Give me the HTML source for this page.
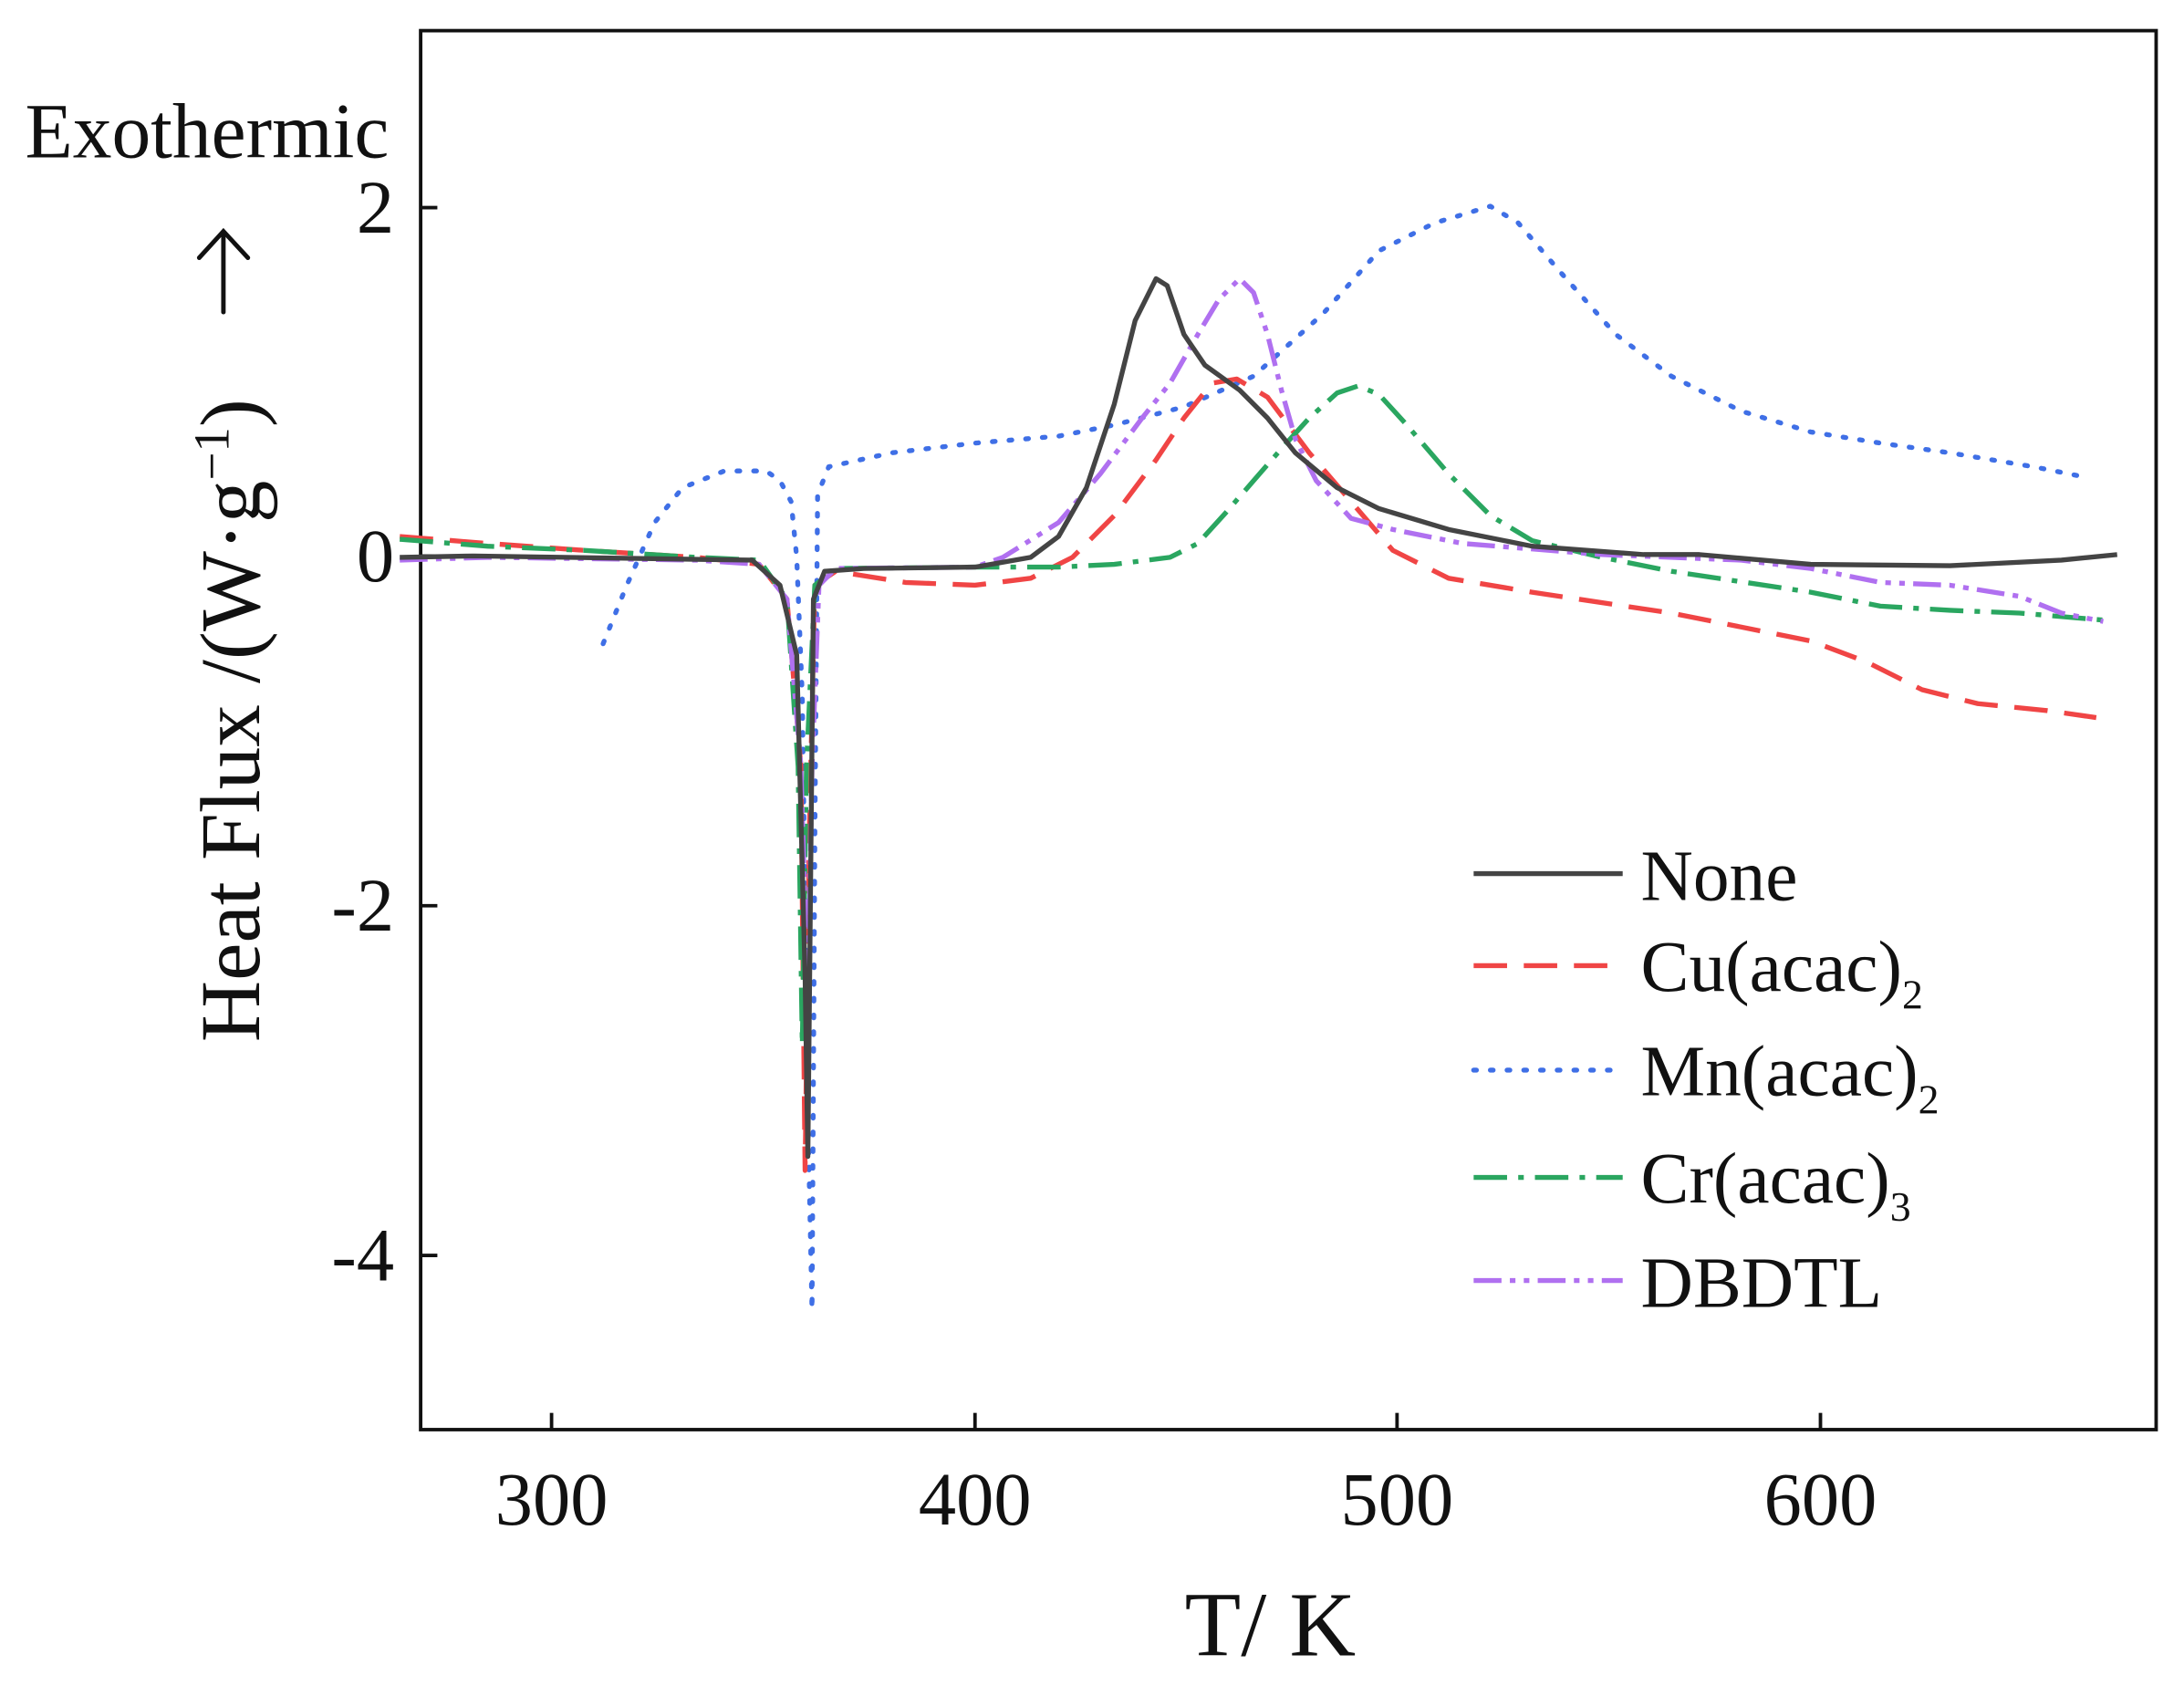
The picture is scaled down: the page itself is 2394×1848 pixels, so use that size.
<!DOCTYPE html>
<html><head><meta charset="utf-8"><style>
html,body{margin:0;padding:0;background:#fff;}
svg{display:block;}
text{font-family:"Liberation Serif",serif;fill:#111;}
</style></head><body>
<svg width="2394" height="1848" viewBox="0 0 1568 1210" preserveAspectRatio="none" xmlns="http://www.w3.org/2000/svg">
<rect x="0" y="0" width="1568" height="1210" fill="#fff"/>
<rect x="302" y="22" width="1246" height="1004" fill="none" stroke="#111" stroke-width="2.5"/>
<g stroke="#111" stroke-width="2.5">
<line x1="396" y1="1026" x2="396" y2="1014"/><line x1="700" y1="1026" x2="700" y2="1014"/>
<line x1="1003" y1="1026" x2="1003" y2="1014"/><line x1="1307" y1="1026" x2="1307" y2="1014"/>
<line x1="302" y1="149" x2="314" y2="149"/><line x1="302" y1="399" x2="314" y2="399"/>
<line x1="302" y1="650" x2="314" y2="650"/><line x1="302" y1="901" x2="314" y2="901"/>
</g>
<g font-size="54" text-anchor="middle">
<text x="396" y="1094">300</text><text x="700" y="1094">400</text>
<text x="1003" y="1094">500</text><text x="1307" y="1094">600</text>
</g>
<g font-size="54" text-anchor="end">
<text x="283" y="167">2</text><text x="283" y="417">0</text>
<text x="283" y="668">-2</text><text x="283" y="919">-4</text>
</g>
<text x="912" y="1188" font-size="66" text-anchor="middle">T/ K</text>
<text x="18" y="113" font-size="56">Exothermic</text>
<g stroke="#111" stroke-width="3.2" fill="none" stroke-linecap="round">
<line x1="160.4" y1="167" x2="160.4" y2="224"/>
<polyline points="143,185 160.4,166 178,185"/>
</g>
<text transform="translate(186,517) rotate(-90)" font-size="61" text-anchor="middle">Heat Flux /(W·g<tspan dy="-22" font-size="36">−1</tspan><tspan dy="22">)</tspan></text>
<g fill="none" stroke-width="3.5" stroke-linejoin="round">
<polyline stroke="#3f6fe6" stroke-dasharray="2,10" stroke-linecap="round" points="433,462 450,420 470,375 490,350 520,338 550,338 560,345 568,360 572,400 576,500 580,800 583,940 585,600 587,355 595,335 640,325 700,318 760,313 800,305 850,292 900,270 950,225 990,180 1030,160 1070,148 1090,160 1120,195 1160,240 1200,270 1250,295 1300,310 1350,318 1400,325 1460,335 1500,343"/>
<polyline stroke="#f04545" stroke-dasharray="24,12" points="287,385 350,390 420,395 500,400 545,405 565,430 575,550 578,840 581,600 585,420 600,410 650,418 700,420 740,415 770,400 800,370 830,330 850,300 870,275 888,272 910,285 940,325 970,360 1000,395 1040,415 1100,425 1200,440 1300,460 1340,475 1380,495 1420,505 1470,510 1505,515"/>
<polyline stroke="#2aa660" stroke-dasharray="24,8,4,8" points="287,387 350,392 420,395 500,400 545,402 565,430 573,550 576,750 579,550 585,420 600,408 700,407 760,407 800,405 840,400 860,390 880,368 900,345 920,322 940,300 960,282 975,277 990,283 1010,305 1040,340 1070,370 1100,388 1150,400 1200,410 1300,425 1350,435 1400,438 1450,440 1510,445"/>
<polyline stroke="#b070f0" stroke-dasharray="20,6,4,6,4,6" points="287,402 350,400 500,402 545,405 565,430 575,550 580,720 583,550 588,420 600,408 700,407 720,400 760,375 790,340 820,300 840,275 860,240 875,215 890,200 900,210 910,240 920,280 930,315 945,345 970,372 1000,380 1050,390 1150,398 1250,402 1300,408 1350,418 1400,420 1450,428 1480,440 1510,446"/>
<polyline stroke="#444" points="287,400 340,399 540,402 560,420 572,470 578,700 580,830 584,430 592,410 620,408 700,407 740,400 760,385 780,350 800,290 815,230 830,200 838,205 850,240 865,262 890,280 910,300 930,325 960,350 990,365 1040,380 1100,392 1180,398 1220,398 1300,405 1400,406 1480,402 1520,398"/>
</g>
<g fill="none" stroke-width="3.5">
<line x1="1058" y1="627" x2="1165" y2="627" stroke="#444"/>
<line x1="1058" y1="693" x2="1165" y2="693" stroke="#f04545" stroke-dasharray="24,12"/>
<line x1="1058" y1="768" x2="1165" y2="768" stroke="#3f6fe6" stroke-dasharray="2,10" stroke-linecap="round"/>
<line x1="1058" y1="845" x2="1165" y2="845" stroke="#2aa660" stroke-dasharray="24,8,4,8"/>
<line x1="1058" y1="919" x2="1165" y2="919" stroke="#b070f0" stroke-dasharray="20,6,4,6,4,6"/>
</g>
<g font-size="52">
<text x="1178" y="646">None</text>
<text x="1178" y="711">Cu(acac)<tspan font-size="30" dy="13">2</tspan></text>
<text x="1178" y="786">Mn(acac)<tspan font-size="30" dy="13">2</tspan></text>
<text x="1178" y="863">Cr(acac)<tspan font-size="30" dy="13">3</tspan></text>
<text x="1178" y="938">DBDTL</text>
</g>
</svg>
</body></html>
